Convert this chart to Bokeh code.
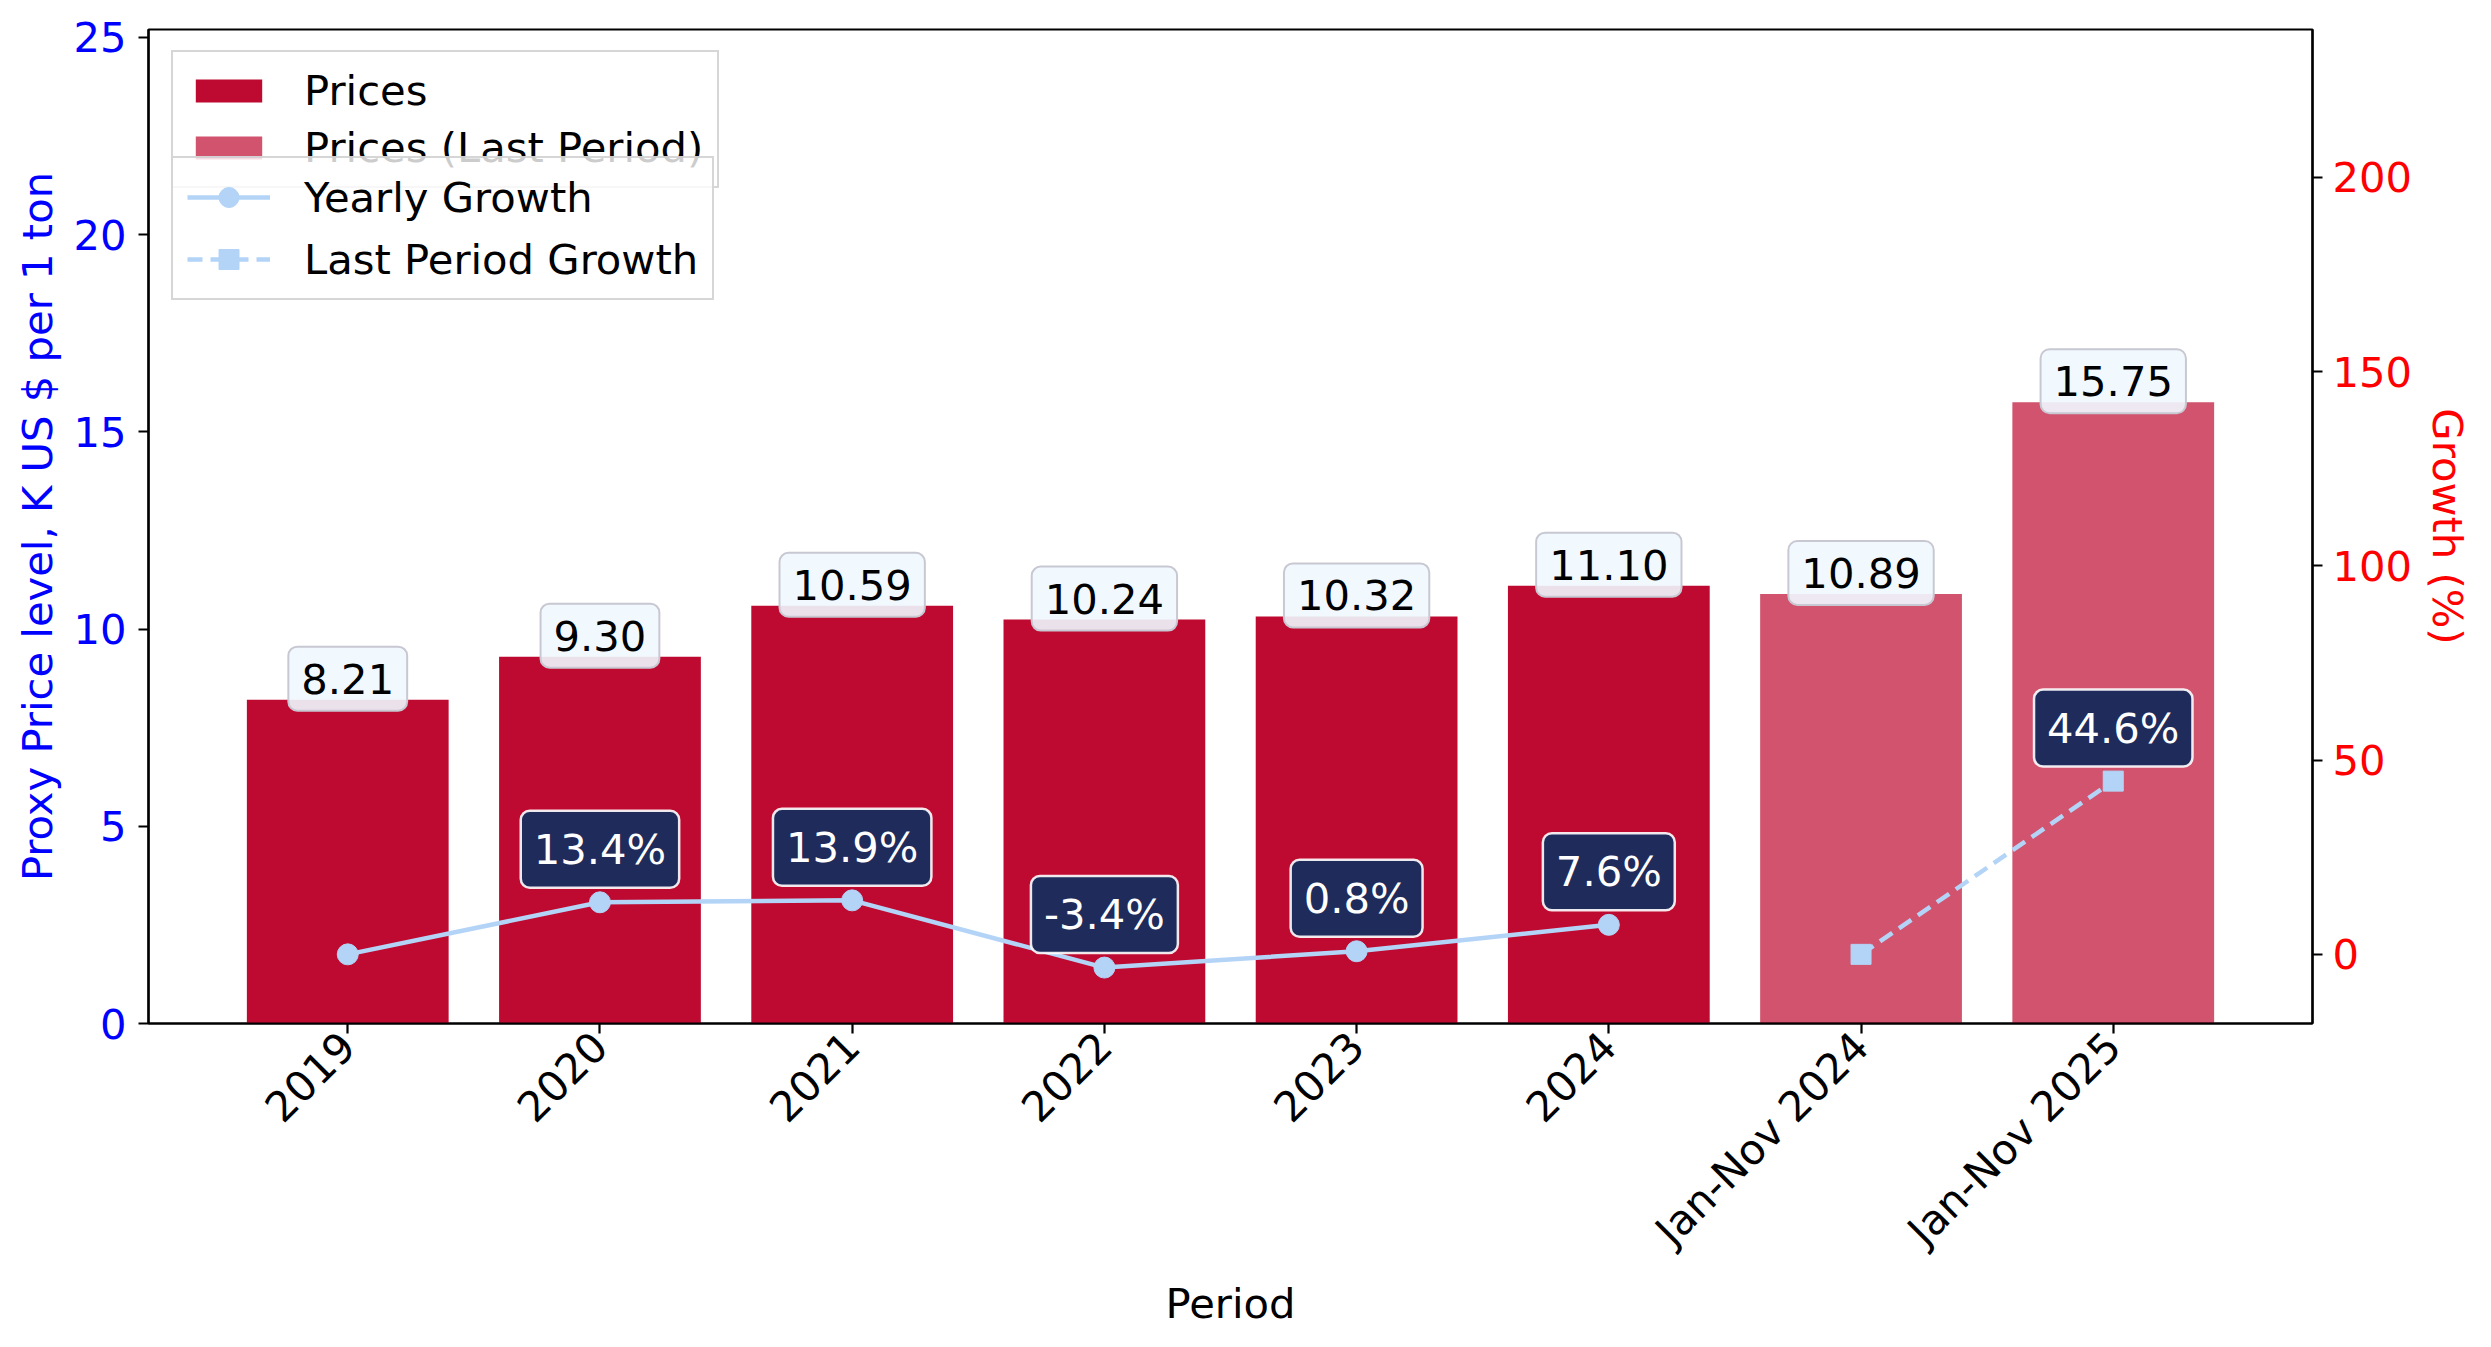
import math
from bokeh.plotting import figure
from bokeh.models import (ColumnDataSource, FactorRange, Range1d, LinearAxis,
                          Legend, LegendItem, FixedTicker)
from bokeh.core.properties import value
from bokeh.embed import file_html
from bokeh.resources import INLINE

# ---------------- data ----------------
periods = ["2019", "2020", "2021", "2022", "2023", "2024", "Jan-Nov 2024", "Jan-Nov 2025"]
prices = [8.21, 9.30, 10.59, 10.24, 10.32, 11.10, 10.89, 15.75]
yearly_periods = ["2019", "2020", "2021", "2022", "2023", "2024"]
yearly_prices = [8.21, 9.30, 10.59, 10.24, 10.32, 11.10]
last_periods = ["Jan-Nov 2024", "Jan-Nov 2025"]
last_prices = [10.89, 15.75]
yearly_growth = [0.0, 13.4, 13.9, -3.4, 0.8, 7.6]
last_growth = [0.0, 44.6]
growth_label_periods = ["2020", "2021", "2022", "2023", "2024", "Jan-Nov 2025"]
growth_label_values = [13.4, 13.9, -3.4, 0.8, 7.6, 44.6]
left_ticks = [0, 5, 10, 15, 20, 25]
right_ticks = [0, 50, 100, 150, 200]

FONT = "DejaVu Sans"
FS = "41.7px"
BAR = "#be0a30"
LINE = "#b3d4f7"
NAVY = "#1f2b5b"

p = figure(width=2475, height=1331, output_backend="svg", toolbar_location=None,
           x_range=FactorRange(factors=periods, range_padding=0.29, range_padding_units="absolute"),
           y_range=Range1d(0, 25.2),
           min_border_left=148, min_border_right=160, min_border_top=29, min_border_bottom=308)
p.extra_y_ranges = {"growth": Range1d(-17.8, 238.1)}
p.xgrid.visible = False
p.ygrid.visible = False
p.outline_line_color = "black"
p.outline_line_width = 2.2
p.outline_line_alpha = 1.0
p.background_fill_color = "white"
p.border_fill_color = "white"

src_y = ColumnDataSource(dict(period=yearly_periods, price=yearly_prices))
src_l = ColumnDataSource(dict(period=last_periods, price=last_prices))
bars1 = p.vbar(x="period", top="price", width=0.8, source=src_y, fill_color=BAR, line_color=None)
bars2 = p.vbar(x="period", top="price", width=0.8, source=src_l, fill_color=BAR, fill_alpha=0.7,
               line_color=None)

src_g1 = ColumnDataSource(dict(period=yearly_periods, g=yearly_growth))
src_g2 = ColumnDataSource(dict(period=last_periods, g=last_growth))
line1 = p.line(x="period", y="g", source=src_g1, y_range_name="growth", line_color=LINE, line_width=4.5)
pts1 = p.scatter(x="period", y="g", source=src_g1, y_range_name="growth", marker="circle", size=21,
                 fill_color=LINE, line_color=LINE)
line2 = p.line(x="period", y="g", source=src_g2, y_range_name="growth", line_color=LINE, line_width=4.5,
               line_dash="15 8")
pts2 = p.scatter(x="period", y="g", source=src_g2, y_range_name="growth", marker="square", size=20,
                 fill_color=LINE, line_color=LINE)

# price labels
src_pl = ColumnDataSource(dict(period=periods, price=prices, label=[f"{v:.2f}" for v in prices]))
p.text(x="period", y="price", text="label", source=src_pl, text_font=value(FONT), text_font_size=FS,
       text_color="black", text_align="center", text_baseline="middle", y_offset=-21,
       background_fill_color="#f0f8ff", background_fill_alpha=0.9,
       border_line_color="#c8c8d2", border_line_width=2, padding=(13, 17), border_radius=9)

# growth labels
src_gl = ColumnDataSource(dict(period=growth_label_periods, g=growth_label_values,
                               label=[f"{v:.1f}%" for v in growth_label_values]))
p.text(x="period", y="g", text="label", source=src_gl, y_range_name="growth",
       text_font=value(FONT), text_font_size=FS, text_color="white", text_align="center",
       text_baseline="middle", y_offset=-53,
       background_fill_color=NAVY, background_fill_alpha=1.0,
       border_line_color="white", border_line_width=2.5, border_line_alpha=0.9,
       padding=(13, 14), border_radius=9)

# axes
def style_axis(ax, color):
    ax.axis_line_width = 2.2
    ax.axis_line_color = "black"
    ax.major_tick_line_width = 2.2
    ax.major_tick_line_color = "black"
    ax.major_tick_out = 10
    ax.major_tick_in = 0
    ax.minor_tick_out = 0
    ax.minor_tick_in = 0
    ax.major_label_text_font = FONT
    ax.major_label_text_font_size = FS
    ax.major_label_text_color = color
    ax.axis_label_text_font = FONT
    ax.axis_label_text_font_size = FS
    ax.axis_label_text_font_style = "normal"
    ax.axis_label_text_color = color

xa = p.xaxis[0]
style_axis(xa, "black")
xa.axis_label = "Period"
xa.major_label_orientation = math.pi / 4
xa.major_label_standoff = 6
xa.axis_label_standoff = 4

ya = p.yaxis[0]
style_axis(ya, "#0000ff")
ya.ticker = FixedTicker(ticks=left_ticks)
ya.axis_label = "Proxy Price level, K US $ per 1 ton"
ya.major_label_standoff = 12
ya.axis_label_standoff = 8

ra = LinearAxis(y_range_name="growth", ticker=FixedTicker(ticks=right_ticks), axis_label="Growth (%)")
style_axis(ra, "#ff0000")
ra.major_label_standoff = 10
ra.axis_label_standoff = 8
p.add_layout(ra, "right")

def style_legend(lg, glyph_h, pad, spacing):
    lg.label_text_font = FONT
    lg.label_text_font_size = FS
    lg.label_text_color = "black"
    lg.glyph_width = 83
    lg.glyph_height = glyph_h
    lg.label_standoff = 34
    lg.padding = pad
    lg.spacing = spacing
    lg.margin = 0
    lg.background_fill_color = "white"
    lg.background_fill_alpha = 0.8
    lg.border_line_color = "#cccccc"
    lg.border_line_width = 2
    lg.border_line_alpha = 0.8

leg1 = Legend(items=[LegendItem(label="Prices", renderers=[bars1]),
                     LegendItem(label="Prices (Last Period)", renderers=[bars2])],
              location=(23, 835))
leg2 = Legend(items=[LegendItem(label="Yearly Growth", renderers=[line1, pts1]),
                     LegendItem(label="Last Period Growth", renderers=[line2, pts2])],
              location=(23, 723))
style_legend(leg1, 29, 14, 8)
style_legend(leg2, 50, 14, 12)
p.add_layout(leg1)
p.add_layout(leg2)

open("out.html", "w").write(file_html(p, INLINE))
